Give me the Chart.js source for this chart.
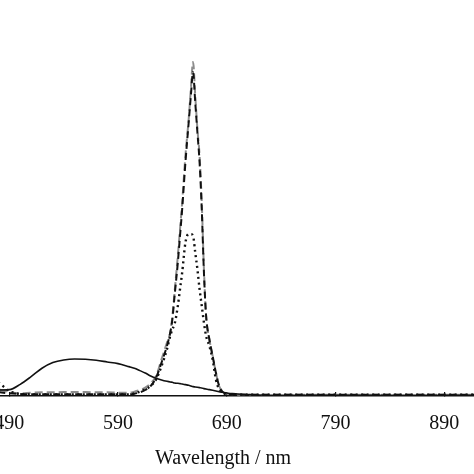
<!DOCTYPE html>
<html>
<head>
<meta charset="utf-8">
<script src="https://cdn.jsdelivr.net/npm/chart.js@4/dist/chart.umd.min.js"></script>
<style>
  html, body { margin: 0; padding: 0; background: #fff; overflow: hidden; width: 474px; height: 474px; }
  #chart { position: absolute; left: -70px; top: 0; }
</style>
</head>
<body>
<canvas id="chart" width="586" height="474"></canvas>
<script>
// Wavelength grid (nm)
var wavelengths = [470, 480, 490, 500, 510, 520, 530, 540, 550, 560,
	570, 580, 590, 600, 605, 610, 615, 620, 625, 630,
	635, 638, 640, 642, 645, 647, 649, 652, 655, 657,
	659, 661, 663, 665, 667, 669, 671, 674, 677, 680,
	683, 686, 690, 695, 700, 710, 720, 740, 760, 780,
	800, 850, 900, 950, 970];

// Broad emission band (solid)
var solidBand = [0.018, 0.018, 0.019, 0.035, 0.058, 0.083, 0.1, 0.108, 0.111, 0.11,
	0.107, 0.102, 0.097, 0.088, 0.083, 0.076, 0.069, 0.06, 0.053, 0.048,
	0.044, 0.042, 0.041, 0.039, 0.038, 0.037, 0.036, 0.034, 0.032, 0.03,
	0.028, 0.027, 0.026, 0.025, 0.024, 0.022, 0.021, 0.019, 0.017, 0.015,
	0.013, 0.011, 0.009, 0.007, 0.006, 0.004, 0.003, 0.002, 0.002, 0.002,
	0.002, 0.002, 0.002, 0.002, 0.002];

// Black dashed
var blackDashed = [0.02, 0.012, 0.008, 0.006, 0.005, 0.005, 0.005, 0.005, 0.005, 0.005,
	0.005, 0.005, 0.005, 0.005, 0.007, 0.011, 0.018, 0.03, 0.055, 0.1,
	0.15, 0.19, 0.23, 0.3, 0.4, 0.48, 0.56, 0.7, 0.82, 0.9,
	0.97, 0.88, 0.79, 0.7, 0.56, 0.37, 0.24, 0.17, 0.12, 0.07,
	0.03, 0.013, 0.006, 0.004, 0.004, 0.004, 0.004, 0.004, 0.004, 0.004,
	0.004, 0.004, 0.004, 0.004, 0.004];

// Grey dashed
var greyDashed = [0.03, 0.02, 0.012, 0.008, 0.01, 0.011, 0.011, 0.012, 0.012, 0.012,
	0.011, 0.011, 0.01, 0.01, 0.013, 0.018, 0.025, 0.038, 0.06, 0.11,
	0.16, 0.19, 0.24, 0.31, 0.42, 0.5, 0.58, 0.72, 0.83, 0.92,
	1.0, 0.9, 0.8, 0.72, 0.58, 0.38, 0.24, 0.17, 0.12, 0.07,
	0.03, 0.014, 0.007, 0.005, 0.004, 0.004, 0.004, 0.004, 0.004, 0.004,
	0.004, 0.004, 0.004, 0.004, 0.004];

// Dotted
var dotted = [0.05, 0.04, 0.015, 0.006, 0.005, 0.005, 0.005, 0.005, 0.005, 0.005,
	0.005, 0.005, 0.005, 0.005, 0.008, 0.013, 0.02, 0.03, 0.05, 0.09,
	0.14, 0.18, 0.2, 0.215, 0.27, 0.32, 0.37, 0.46, 0.485, 0.485,
	0.48, 0.43, 0.38, 0.32, 0.27, 0.22, 0.18, 0.15, 0.11, 0.05,
	0.02, 0.01, 0.005, 0.004, 0.004, 0.004, 0.004, 0.004, 0.004, 0.004,
	0.004, 0.004, 0.004, 0.004, 0.004];

var tickValues = [490, 590, 690, 790, 890];

function toPoints(vals) {
	var pts = [];
	for (var i = 0; i < wavelengths.length; i++) {
		pts.push({ x: wavelengths[i], y: vals[i] });
	}
	return pts;
}

function lineSet(label, vals, color, dash, width) {
	return {
		label: label,
		data: toPoints(vals),
		borderColor: color,
		borderWidth: width,
		borderDash: dash,
		pointRadius: 0,
		fill: false,
		cubicInterpolationMode: 'monotone'
	};
}

var serif = "'Liberation Serif', 'Times New Roman', serif";

var ctx = document.getElementById('chart').getContext('2d');
var chart = new Chart(ctx, {
	type: 'line',
	data: {
		datasets: [
			lineSet('solid', solidBand, '#111', [], 1.6),
			lineSet('dotted', dotted, '#111', [2, 3.5], 2.4),
			lineSet('dashed', blackDashed, '#111', [7, 4], 2),
			lineSet('grey dashed', greyDashed, '#8c8c8c', [8, 4], 2)
		]
	},
	options: {
		responsive: false,
		animation: false,
		layout: { padding: 0 },
		plugins: {
			legend: { display: false },
			tooltip: { enabled: false }
		},
		scales: {
			x: {
				type: 'linear',
				min: 417,
				max: 956.1,
				afterBuildTicks: function(scale) {
					scale.ticks = tickValues.map(function(v) { return { value: v }; });
				},
				afterFit: function(scale) {
					scale.height = 78;
				},
				border: { display: true, color: '#111', width: 1.5 },
				grid: {
					drawOnChartArea: false,
					drawTicks: true,
					tickLength: -4,
					color: '#111',
					lineWidth: 1.2
				},
				ticks: {
					color: '#111',
					padding: 20,
					font: { family: serif, size: 20 }
				},
				title: {
					display: true,
					text: 'Wavelength / nm',
					color: '#111',
					padding: { top: 0, bottom: 3 },
					font: { family: serif, size: 20 }
				}
			},
			y: {
				display: false,
				min: 0,
				max: 1.186
			}
		}
	}
});
</script>
</body>
</html>
